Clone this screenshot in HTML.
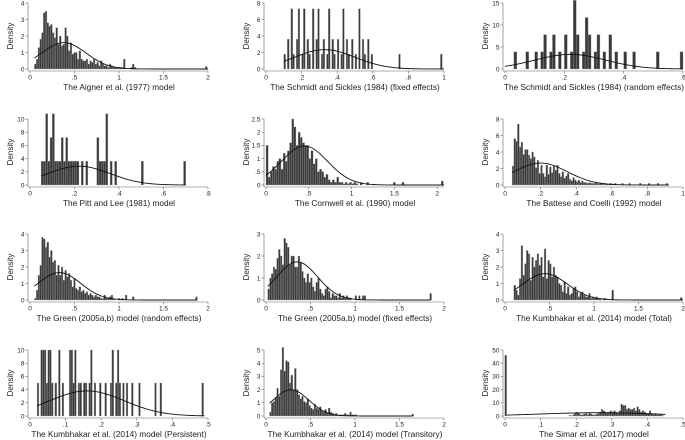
<!DOCTYPE html>
<html><head><meta charset="utf-8"><style>
html,body{margin:0;padding:0;background:#fff}
svg{display:block;font-family:"Liberation Sans",sans-serif}
</style></head><body>
<svg id="c" width="685" height="440" viewBox="0 0 685 440"></svg>
<script>
// ---- data ----
const titles = ["The Aigner et al. (1977) model","The Schmidt and Sickles (1984) (fixed effects)","The Schmidt and Sickles (1984) (random effects)",
"The Pitt and Lee (1981) model","The Cornwell et al. (1990) model","The Battese and Coelli (1992) model",
"The Green (2005a,b) model (random effects)","The Green (2005a,b) model (fixed effects)","The Kumbhakar et al. (2014) model (Total)",
"The Kumbhakar et al. (2014) model (Persistent)","The Kumbhakar et al. (2014) model (Transitory)","The Simar et al. (2017) model"];
const xTicks = [[0,.5,1,1.5,2],[0,.2,.4,.6,.8,1],[0,.2,.4,.6],[0,.2,.4,.6,.8],[0,.5,1,1.5,2],[0,.2,.4,.6,.8,1],
[0,.5,1,1.5,2],[0,.5,1,1.5,2],[0,.5,1,1.5,2],[0,.1,.2,.3,.4,.5],[0,.5,1,1.5,2],[0,.1,.2,.3,.4,.5]];
const xMax = [2,1,.6,.8,2.08,1,2,2,2,.5,2,.5];
const yTicks = [[0,1,2,3,4],[0,2,4,6,8],[0,5,10,15],[0,2,4,6,8,10],[0,.5,1,1.5,2,2.5],[0,2,4,6,8],
[0,1,2,3,4],[0,1,2,3],[0,1,2,3,4],[0,2,4,6,8,10],[0,1,2,3,4,5],[0,10,20,30,40,50]];
const binStart = [.05,.10,0,.05,0,.04,.05,.02,.10,.02,.04,.18];
const binWidth = [.02,.01,.01,.01,.025,.01,.02,.02,.02,.005,.02,.005];
const curveMean = [.38,.33,.22,.22,.45,.2,.33,.35,.45,.16,.28,.26];
const curveSd = [.25,.17,.12,.14,.27,.15,.24,.23,.25,.105,.2,.16];
const curveEnd = [2,1,.6,.7,2.08,.92,1.88,1.85,2,.49,1.65,.45];
const h1=[0.3,0.6,1.3,1.8,2.2,3.4,3.5,2.8,2.6,2.7,2.2,1.9,2.5,1.5,2.0,1.4,1.5,2.5,2.0,1.1,1.6,0.9,1.0,1.0,0.6,1.1,0.6,0.5,0.5,0.6,0.3,0.5,0.4,0.6,0.3,0.4,0.2,0.5,0.3,0.2,0.2,0.1,0.3,0.2,0.1,0.1,0.1,0.1,0.1,0.1,0.6,0,0,0,0.1,0.3,0.1];
const e1=[[1.98,0.15]];
const h2=[1.8,0,3.6,0,7.3,1.8,0,3.6,7.3,0, 1.8,7.3,0,3.6,1.8,0,7.3,0,3.6,7.3, 0,1.8,3.6,0,1.8,7.3,0,3.6,1.8,0, 3.6,0,1.8,7.3,0,3.6,1.8,0,3.6,0, 1.8,0,7.3,0,3.6,1.8,0,3.6,0,1.8];
const e2=[[.75,1.8],[.985,1.8]];
const h3=[0,0,0,3.9,0,0,0,3.9,0,0, 3.9,0,3.9,7.8,0,3.9,7.8,0,3.9,0, 7.8,0,3.9,15.6,7.8,0,3.9,11.7,7.8,0, 3.9,7.8,0,3.9,0,7.8,0,3.9,0,0, 3.9,0,0,3.9,0,0,0,0,0,0, 0,3.9,0,0,0,0,0,0,0,3.9];
const e3=[];
const h4=[3.6,3.6,10.8,3.6,7.2,10.8,3.6,3.6,3.6,7.2, 3.6,7.2,3.6,3.6,3.6,3.6,3.6,0,3.6,0, 3.6,0,0,0,0,7.2,3.6,3.6,3.6,10.8, 0,3.6,0,3.6,0,0,0,0,0,0, 0,0,0,0,0,3.6];
const e4=[[.695,3.6]];
const h5=[1.5,0.3,0.5,0.7,0.6,0.9,1.0,0.6,1.2,0.9,1.3,1.6,2.5,2.2,1.5,2.0,1.8,1.6,1.5,1.5,1.0,1.3,0.8,1.0,0.5,0.6,0.5,0.3,0.4,0.2,0.1,0.2,0.1,0.3,0.1,0.1,0.05,0.1,0.05,0.1,0.05,0.1,0.05,0,0.1,0,0,0.1];
const e5=[[1.5,0.1],[1.6,0.1],[2.06,0.15]];
const h6=[2.3,5.6,5.3,7.4,4.6,5.2,3.7,4.3,4.3,3.6,3.2,4.0,3.4,2.1,3.0,1.4,2.4,1.4,1.0,2.4,1.3,2.2,1.5,2.3,1.8,2.4,1.4,1.0,1.6,0.8,1.1,1.4,0.7,0.5,0.9,0.6,0.4,0.6,0.3,0.5,0.3,0.3,0.2,0.3,0.2,0.2,0.2,0.3,0.1,0.2,0.2,0.1,0.2,0.1,0.1,0.2];
const e6=[[.62,.2],[.66,.2],[.7,.2],[.76,.2],[.81,.2],[.86,.2],[.91,.2]];
const h7=[0.1,0.6,1.5,2.1,3.8,3.7,3.2,3.5,2.6,3.0,2.3,2.4,1.5,2.1,1.5,2.0,1.2,1.8,1.4,1.6,1.2,0.8,1.3,0.7,0.6,0.8,0.5,0.6,0.4,0.5,0.3,0.4,0.3,0.2,0.3,0.2,0.2,0.1,0.1,0.3,0.1,0.1,0.2,0.3,0.1,0,0,0.1,0,0.1,0,0.3,0,0,0,0.2];
const e7=[[1.87,0.2]];
const h8=[0.5,1.0,1.2,1.5,1.4,1.9,2.3,2.0,1.6,2.8,2.6,2.4,1.6,2.0,2.0,1.5,1.5,2.0,1.7,1.3,1.0,0.8,1.2,0.8,1.0,0.6,0.4,0.8,1.0,0.5,0.3,0.2,0.5,0.6,0.4,0.1,0.3,0.2,0.2,0.1,0.3,0.1,0.2,0.1,0.2,0.1,0.1,0,0,0.2,0,0.2,0,0.2,0.2];
const e8=[[1.85,0.3]];
const h9=[0.9,0.6,0.3,1.3,3.3,1.5,2.2,3.0,2.8,1.2,2.6,2.0,2.4,2.8,2.1,2.6,1.4,3.1,1.3,2.4,2.2,1.4,2.0,1.5,1.4,1.0,0.9,0.5,1.1,0.4,0.8,0.3,0.4,0.7,0.8,0.5,0.2,0.4,0.5,0.3,0.2,0.2,0.4,0.1,0.2,0.1,0.2,0.1,0.1,0,0.1,0.1,0,0,0,0.6,0];
const e9=[[1.98,0.15]];
const h10=[5,0,10,10,10,5,10,10,5,0, 5,0,10,0,5,0,0,0,10,10, 5,10,0,5,5,0,5,5,0,5, 10,0,5,0,0,5,0,0,5,0, 0,5,10,0,5,10,5,0,5,0, 5,0,0,5,0,0,0,5,0,0, 0,0,0,0,0,0,5,0,0,5];
const e10=[[.485,5]];
const h11=[0.3,1.0,1.1,1.4,2.1,1.5,3.5,5.2,3.4,4.2,4.1,2.5,3.1,2.0,3.6,2.0,1.6,1.3,1.5,1.1,1.0,1.3,0.8,0.6,0.5,0.9,0.6,0.5,0.7,0.4,0.3,0.5,0.2,0.6,0.3,0.2,0.1,0.2,0.1,0.1,0.1,0.1,0.2,0.1,0.1,0.3,0.1,0.1,0.1];
const e11=[[1.65,0.15]];
const h12=[0.5,0.3,1,2,3,2,1,1,1.5,2,1,2,1.5,1,1,1.5,2,3,5,4,3,2,3,4,3,4,3,2,4,9,8,8,5,6,5,5,6,4,7,5,3,4,3,2,2,4,2,1,2,1,1,1,0.5];
const e12=[[0.002,46]];
const heights=[h1,h2,h3,h4,h5,h6,h7,h8,h9,h10,h11,h12];
const extras=[e1,e2,e3,e4,e5,e6,e7,e8,e9,e10,e11,e12];

// ---- drawing ----
const NS="http://www.w3.org/2000/svg";
const svg=document.getElementById('c');
function mk(tag,attrs,parent){const e=document.createElementNS(NS,tag);for(const k in attrs)e.setAttribute(k,attrs[k]);(parent||svg).appendChild(e);return e;}
function fmt(v){if(v===0)return '0';let s=String(v);return s.replace(/^0\./,'.');}
const colX=[30,266,505], PW=178, baseY=[69,185,300,416], PH=66;
for(let i=0;i<12;i++){
  const x0=colX[i%3], y0=baseY[Math.floor(i/3)];
  const yMax=yTicks[i][yTicks[i].length-1];
  const sx=v=>x0+v/xMax[i]*PW, sy=v=>y0-v/yMax*PH;
  const g=mk('g',{});
  
  
  const bw=binWidth[i];
  const bars=mk('g',{fill:'#3a3a3a',stroke:'#9a9a9a','stroke-width':'0.35'},g);
  
  
  heights[i].forEach((h,k)=>{ if(h<=0)return;
    const xa=sx(binStart[i]+k*bw), xb=sx(binStart[i]+(k+1)*bw);
    const r=mk('rect',{x:xa,y:sy(h),width:Math.max(xb-xa,0.8),height:y0-sy(h)},bars);
    
    
  });
  extras[i].forEach(p=>{
    const w=Math.max(sx(p[0]+bw)-sx(p[0]),1.2);
    const r=mk('rect',{x:sx(p[0])-w/2,y:sy(p[1]),width:w,height:y0-sy(p[1])},bars);
    
    
  });
  // normal curve
  let d='';const a=binStart[i]===0.18?0.005:binStart[i], b=curveEnd[i];
  for(let s=0;s<=80;s++){const v=a+(b-a)*s/80;const pdf=Math.exp(-0.5*Math.pow((v-curveMean[i])/curveSd[i],2))/(curveSd[i]*Math.sqrt(2*Math.PI));
    d+=(s?'L':'M')+sx(v).toFixed(2)+' '+sy(pdf).toFixed(2);}
  const c=mk('path',{d:d,fill:'none',stroke:'#111','stroke-width':'0.9'},g);
  
  
  // axes
  const ax=x0-2;
  const ya=mk('line',{x1:ax,y1:sy(yMax),x2:ax,y2:y0+2,stroke:'#666','stroke-width':'0.6'},g);
  
  
  const xa=mk('line',{x1:ax,y1:y0+2,x2:x0+PW,y2:y0+2,stroke:'#666','stroke-width':'0.6'},g);
  
  
  yTicks[i].forEach(v=>{
    mk('line',{x1:ax-2.5,y1:sy(v),x2:ax,y2:sy(v),stroke:'#666','stroke-width':'0.6'},g);
    const t=mk('text',{x:ax-3.5,y:sy(v)+2.3,'font-size':'6.5','text-anchor':'end',fill:'#222'},g);
    t.textContent=fmt(v);
    
    
  });
  xTicks[i].forEach(v=>{
    mk('line',{x1:sx(v),y1:y0+2,x2:sx(v),y2:y0+4.5,stroke:'#666','stroke-width':'0.6'},g);
    const t=mk('text',{x:sx(v),y:y0+10.5,'font-size':'6.5','text-anchor':'middle',fill:'#222'},g);
    t.textContent=fmt(v);
    
    
  });
  const yl=mk('text',{x:0,y:0,'font-size':'8','text-anchor':'middle',fill:'#222',transform:`translate(${x0-17},${y0-PH/2}) rotate(-90)`},g);
  yl.textContent='Density';
  
  
  const tl=mk('text',{x:x0+PW/2,y:y0+21,'font-size':'8.3','text-anchor':'middle',fill:'#222'},g);
  tl.textContent=titles[i];
  
  
}
</script>
</body></html>
